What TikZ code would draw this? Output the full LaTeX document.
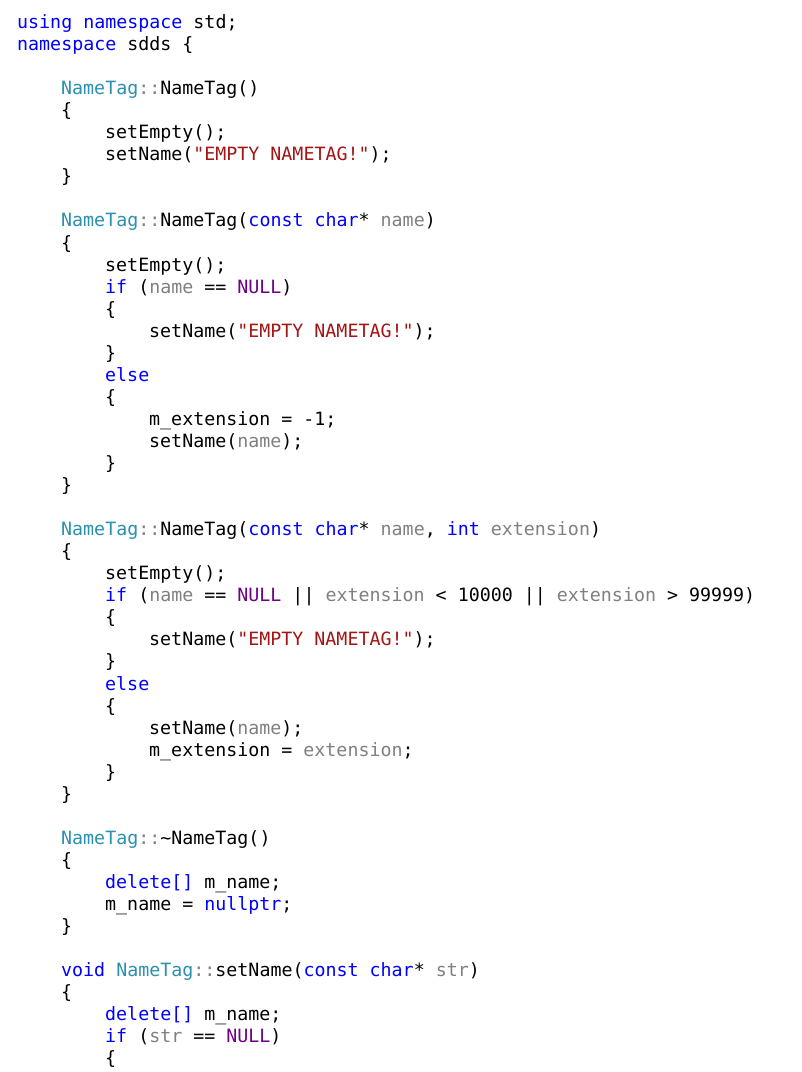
\documentclass[tikz,border=0pt]{standalone}
\usepackage{fontspec}
\newfontfamily\codefont{DejaVu Sans Mono}
\definecolor{kwc}{RGB}{0,0,255}
\definecolor{tyc}{RGB}{43,145,175}
\definecolor{stc}{RGB}{163,21,21}
\definecolor{pac}{RGB}{128,128,128}
\definecolor{nuc}{RGB}{111,0,138}
\newcommand\kwd[1]{\textcolor{kwc}{#1}}
\newcommand\typ[1]{\textcolor{tyc}{#1}}
\newcommand\cstr[1]{\textcolor{stc}{#1}}
\newcommand\prm[1]{\textcolor{pac}{#1}}
\newcommand\mac[1]{\textcolor{nuc}{#1}}
\newcommand\codeline[3]{\node[ln] (l#1) at ({17+11*#2},{28.5+22.05*#1}) {#3};}
\begin{document}
\begin{tikzpicture}[x=1pt,y=-1pt,
  ln/.style={anchor=base west,inner sep=0pt,font=\codefont\fontsize{18.3}{22}\selectfont,text=black}]
\fill[white] (0,0) rectangle (802,1072);
\useasboundingbox (0,0) rectangle (802,1072);
\codeline{0}{0}{\kwd{using namespace} std;}
\codeline{1}{0}{\kwd{namespace} sdds \{}
\codeline{3}{4}{\typ{NameTag}\prm{::}NameTag()}
\codeline{4}{4}{\{}
\codeline{5}{8}{setEmpty();}
\codeline{6}{8}{setName(\cstr{"EMPTY NAMETAG!"});}
\codeline{7}{4}{\}}
\codeline{9}{4}{\typ{NameTag}\prm{::}NameTag(\kwd{const char}* \prm{name})}
\codeline{10}{4}{\{}
\codeline{11}{8}{setEmpty();}
\codeline{12}{8}{\kwd{if} (\prm{name} == \mac{NULL})}
\codeline{13}{8}{\{}
\codeline{14}{12}{setName(\cstr{"EMPTY NAMETAG!"});}
\codeline{15}{8}{\}}
\codeline{16}{8}{\kwd{else}}
\codeline{17}{8}{\{}
\codeline{18}{12}{m\_extension = -1;}
\codeline{19}{12}{setName(\prm{name});}
\codeline{20}{8}{\}}
\codeline{21}{4}{\}}
\codeline{23}{4}{\typ{NameTag}\prm{::}NameTag(\kwd{const char}* \prm{name}, \kwd{int} \prm{extension})}
\codeline{24}{4}{\{}
\codeline{25}{8}{setEmpty();}
\codeline{26}{8}{\kwd{if} (\prm{name} == \mac{NULL} || \prm{extension} < 10000 || \prm{extension} > 99999)}
\codeline{27}{8}{\{}
\codeline{28}{12}{setName(\cstr{"EMPTY NAMETAG!"});}
\codeline{29}{8}{\}}
\codeline{30}{8}{\kwd{else}}
\codeline{31}{8}{\{}
\codeline{32}{12}{setName(\prm{name});}
\codeline{33}{12}{m\_extension = \prm{extension};}
\codeline{34}{8}{\}}
\codeline{35}{4}{\}}
\codeline{37}{4}{\typ{NameTag}\prm{::}\textasciitilde NameTag()}
\codeline{38}{4}{\{}
\codeline{39}{8}{\kwd{delete[]} m\_name;}
\codeline{40}{8}{m\_name = \kwd{nullptr};}
\codeline{41}{4}{\}}
\codeline{43}{4}{\kwd{void} \typ{NameTag}\prm{::}setName(\kwd{const char}* \prm{str})}
\codeline{44}{4}{\{}
\codeline{45}{8}{\kwd{delete[]} m\_name;}
\codeline{46}{8}{\kwd{if} (\prm{str} == \mac{NULL})}
\codeline{47}{8}{\{}
\end{tikzpicture}
\end{document}
